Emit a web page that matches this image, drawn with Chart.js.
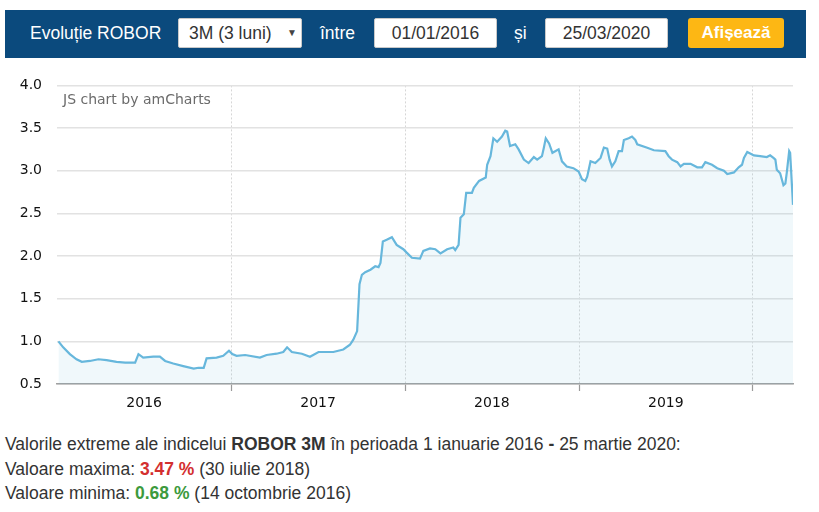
<!DOCTYPE html>
<html lang="ro">
<head>
<meta charset="utf-8">
<title>Evoluție ROBOR 3M</title>
<script src="https://cdn.jsdelivr.net/npm/chart.js@4.4.1/dist/chart.umd.min.js"></script>
<style>
  html, body { margin:0; padding:0; background:#fff; }
  body { width:819px; height:512px; position:relative; overflow:hidden; font-family:"Liberation Sans", Arial, sans-serif; }
  .hdr { position:absolute; left:5px; top:10px; width:801px; height:48px; background:#0b4a7d; }
  .ht { position:absolute; color:#fff; font-size:17.5px; top:23px; line-height:20px; }
  .box { position:absolute; top:18px; height:30px; background:#fff; border:1px solid #c9c9c9; box-sizing:border-box; border-radius:2px; color:#333; font-size:17.5px; line-height:28px; }
  .btn { position:absolute; left:688px; top:18px; width:96px; height:30px; background:#fdb714; border-radius:3px; color:#fff; font-weight:bold; font-size:17px; line-height:30px; text-align:center; }
  #wrap { position:absolute; left:0; top:62px; width:819px; height:359px; }
  .credit { position:absolute; left:63px; top:91px; font-family:"DejaVu Sans", Verdana, sans-serif; font-size:14px; color:#6b6b6b; }
  .info { position:absolute; left:5px; top:432px; font-size:17.5px; line-height:24.5px; color:#333; }
  .red { color:#d32f2f; font-weight:bold; }
  .green { color:#3d9a3d; font-weight:bold; }
</style>
</head>
<body>
<div class="hdr"></div>
<div class="ht" style="left:30px;">Evoluție ROBOR</div>
<div class="box" style="left:178px;width:124px;padding-left:10px;">3M (3 luni)<span style="position:absolute;left:108px;top:0;font-size:10px;color:#444;">▼</span></div>
<div class="ht" style="left:320px;">între</div>
<div class="box" style="left:374px;width:123px;text-align:center;">01/01/2016</div>
<div class="ht" style="left:514px;">și</div>
<div class="box" style="left:545px;width:123px;text-align:center;">25/03/2020</div>
<div class="btn">Afișează</div>

<div id="wrap"><canvas id="c"></canvas></div>
<div class="credit">JS chart by amCharts</div>

<div class="info">
Valorile extreme ale indicelui <b>ROBOR 3M</b> în perioada 1 ianuarie 2016 <b>-</b> 25 martie 2020:<br>
Valoare maxima: <span class="red">3.47 %</span> (30 iulie 2018)<br>
Valoare minima: <span class="green">0.68 %</span> (14 octombrie 2016)
</div>

<script>
// ---- data ----
const dates = [
  '2016-01-04','2016-01-14','2016-01-28','2016-02-11','2016-02-22','2016-03-10','2016-03-28','2016-04-14',
  '2016-05-05','2016-05-23','2016-06-13','2016-06-20','2016-06-30','2016-07-21','2016-08-04','2016-08-15',
  '2016-09-01','2016-09-22','2016-10-14','2016-10-24','2016-11-04','2016-11-10','2016-12-01','2016-12-15',
  '2016-12-27','2017-01-03','2017-01-12','2017-01-30','2017-03-02','2017-03-16','2017-04-06','2017-04-20',
  '2017-04-28','2017-05-08','2017-05-29','2017-06-15','2017-07-03','2017-08-03','2017-08-24','2017-09-07',
  '2017-09-14','2017-09-22','2017-09-27','2017-10-02','2017-10-09','2017-10-20','2017-10-30','2017-11-06',
  '2017-11-10','2017-11-15','2017-11-23','2017-12-04','2017-12-14','2017-12-28','2018-01-04','2018-01-15',
  '2018-02-01','2018-02-08','2018-02-22','2018-03-05','2018-03-16','2018-03-30','2018-04-12','2018-04-16',
  '2018-04-23','2018-04-27','2018-05-04','2018-05-09','2018-05-21','2018-05-25','2018-06-05','2018-06-19',
  '2018-06-22','2018-06-29','2018-07-05','2018-07-13','2018-07-23','2018-07-30','2018-08-03','2018-08-09',
  '2018-08-20','2018-08-27','2018-09-07','2018-09-17','2018-09-28','2018-10-05','2018-10-15','2018-10-19',
  '2018-10-23','2018-10-30','2018-11-06','2018-11-19','2018-11-26','2018-12-06','2018-12-20','2018-12-31',
  '2019-01-07','2019-01-14','2019-01-18','2019-01-25','2019-02-04','2019-02-15','2019-02-22','2019-03-01',
  '2019-03-06','2019-03-11','2019-03-18','2019-03-25','2019-04-01','2019-04-05','2019-04-15','2019-04-22',
  '2019-04-29','2019-05-03','2019-05-24','2019-06-07','2019-07-01','2019-07-08','2019-07-15','2019-07-26',
  '2019-08-02','2019-08-09','2019-08-23','2019-09-06','2019-09-16','2019-09-23','2019-10-07','2019-10-18',
  '2019-11-01','2019-11-08','2019-11-22','2019-12-02','2019-12-09','2019-12-13','2019-12-20','2020-01-03',
  '2020-01-16','2020-01-30','2020-02-06','2020-02-13','2020-02-17','2020-02-20','2020-02-27','2020-03-05',
  '2020-03-09','2020-03-12','2020-03-17','2020-03-19','2020-03-25'
];
const robor = [
  1.00,0.93,0.85,0.79,0.76,0.77,0.79,0.78,
  0.76,0.75,0.75,0.85,0.81,0.82,0.82,0.77,
  0.74,0.71,0.68,0.69,0.69,0.80,0.81,0.83,
  0.89,0.85,0.83,0.84,0.81,0.84,0.855,0.875,
  0.93,0.875,0.855,0.82,0.875,0.875,0.905,0.96,
  1.02,1.12,1.67,1.78,1.81,1.84,1.88,1.87,
  1.92,2.17,2.19,2.22,2.13,2.08,2.04,1.98,
  1.97,2.06,2.09,2.08,2.03,2.08,2.10,2.07,
  2.13,2.45,2.49,2.74,2.74,2.80,2.88,2.92,
  3.07,3.17,3.38,3.34,3.40,3.47,3.46,3.29,
  3.31,3.25,3.13,3.09,3.16,3.13,3.17,3.27,
  3.38,3.32,3.21,3.25,3.11,3.05,3.03,2.99,
  2.90,2.88,2.93,3.11,3.09,3.15,3.27,3.26,
  3.13,3.05,3.11,3.23,3.23,3.36,3.38,3.40,
  3.36,3.31,3.27,3.24,3.23,3.17,3.13,3.10,
  3.05,3.08,3.08,3.04,3.04,3.10,3.07,3.03,
  3.00,2.96,2.98,3.04,3.07,3.15,3.22,3.18,
  3.17,3.16,3.18,3.15,3.13,3.01,2.97,2.83,
  2.85,2.98,3.23,3.21,2.60
];
const rangeStart = '2016-01-01';
const rangeEnd = '2020-03-25';
const yearStarts = ['2017-01-01','2018-01-01','2019-01-01','2020-01-01'];
const yearMids = ['2016-07-02','2017-07-02','2018-07-02','2019-07-02'];
const yearLabels = ['2016','2017','2018','2019'];
const yMin = 0.5, yMax = 4.0, yStep = 0.5;

// ---- helpers ----
function dayIndex(s) {
  const [y, m, d] = s.split('-').map(Number);
  return (Date.UTC(y, m - 1, d) - Date.UTC(2016, 0, 1)) / 86400000;
}
const points = dates.map((d, i) => ({ x: dayIndex(d), y: robor[i] }));

const axisFont = { family: "'DejaVu Sans', Verdana, sans-serif", size: 14 };

new Chart(document.getElementById('c'), {
  type: 'line',
  data: {
    datasets: [{
      data: points,
      borderColor: '#67b7dc',
      backgroundColor: 'rgba(103,183,220,0.10)',
      borderWidth: 2.2,
      pointRadius: 0,
      tension: 0,
      fill: 'start'
    }]
  },
  options: {
    responsive: true,
    maintainAspectRatio: false,
    animation: false,
    layout: { padding: { top: 6, right: 26, left: 0, bottom: 0 } },
    plugins: { legend: { display: false }, tooltip: { enabled: false } },
    scales: {
      x: {
        type: 'linear',
        position: 'bottom',
        weight: 0,
        min: dayIndex(rangeStart),
        max: dayIndex(rangeEnd),
        afterBuildTicks: s => { s.ticks = yearStarts.map(v => ({ value: dayIndex(v) })); },
        afterFit: s => { s.height = 7; },
        ticks: { display: false, autoSkip: false },
        grid: { color: '#d6d6d6', lineWidth: 1, drawTicks: true, tickLength: 7, tickColor: '#9a9a9a', tickBorderDash: [], tickWidth: 1.2 },
        border: { display: true, color: '#a0a0a0', width: 1.5, dash: [2, 2] }
      },
      xl: {
        type: 'linear',
        position: 'bottom',
        weight: 1,
        min: dayIndex(rangeStart),
        max: dayIndex(rangeEnd),
        afterBuildTicks: s => { s.ticks = yearMids.map(v => ({ value: dayIndex(v) })); },
        afterFit: s => { s.height = 30; },
        ticks: {
          autoSkip: false, maxRotation: 0, padding: 4, color: '#111', font: axisFont,
          callback: (v, i) => yearLabels[i]
        },
        grid: { display: false, drawTicks: false },
        border: { display: false }
      },
      y: {
        min: yMin,
        max: yMax,
        afterBuildTicks: s => {
          const t = [];
          for (let v = yMin; v <= yMax + 1e-9; v += yStep) t.push({ value: Math.round(v * 10) / 10 });
          s.ticks = t;
        },
        afterFit: s => { s.width = 57; },
        ticks: { color: '#111', font: axisFont, padding: 15, callback: v => Number(v).toFixed(1) },
        grid: { color: '#e2e2e2', lineWidth: 1.5, drawTicks: false },
        border: { display: false }
      }
    }
  }
});
</script>
</body>
</html>
